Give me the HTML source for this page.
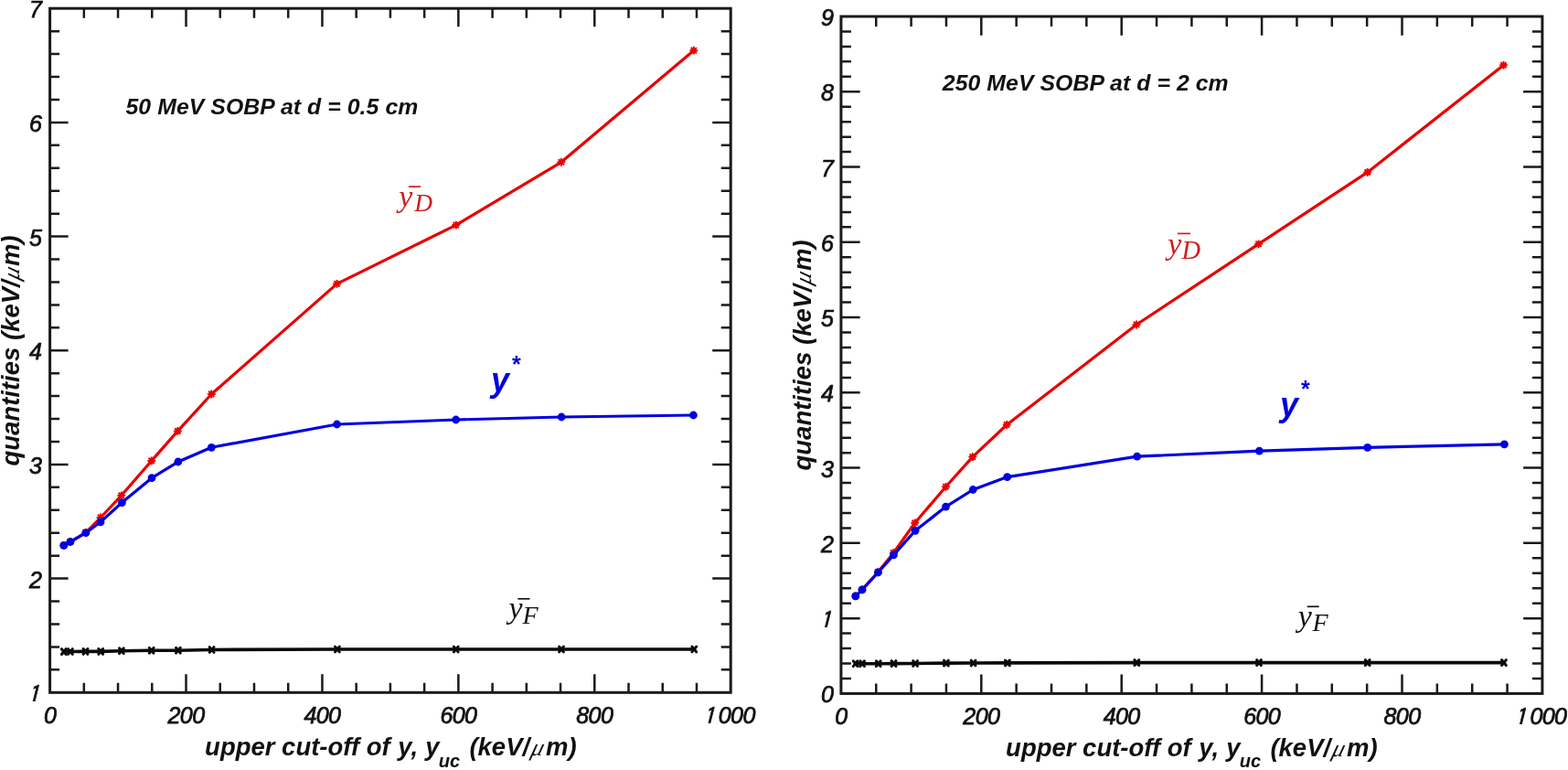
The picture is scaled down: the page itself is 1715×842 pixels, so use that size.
<!DOCTYPE html>
<html><head><meta charset="utf-8"><title>figure</title>
<style>html,body{margin:0;padding:0;background:#fff;}body{width:1715px;height:842px;overflow:hidden;}svg{display:block;}</style>
</head><body>
<svg width="1715" height="842" viewBox="0 0 1715 842"><rect x="0" y="0" width="1715" height="842" fill="#fff"/><path d="M91.83 757.30v-10.5M91.83 9.20v10.5M129.06 757.30v-10.5M129.06 9.20v10.5M166.29 757.30v-10.5M166.29 9.20v10.5M203.52 757.30v-20.0M203.52 9.20v20.0M240.75 757.30v-10.5M240.75 9.20v10.5M277.98 757.30v-10.5M277.98 9.20v10.5M315.21 757.30v-10.5M315.21 9.20v10.5M352.44 757.30v-20.0M352.44 9.20v20.0M389.67 757.30v-10.5M389.67 9.20v10.5M426.90 757.30v-10.5M426.90 9.20v10.5M464.13 757.30v-10.5M464.13 9.20v10.5M501.36 757.30v-20.0M501.36 9.20v20.0M538.59 757.30v-10.5M538.59 9.20v10.5M575.82 757.30v-10.5M575.82 9.20v10.5M613.05 757.30v-10.5M613.05 9.20v10.5M650.28 757.30v-20.0M650.28 9.20v20.0M687.51 757.30v-10.5M687.51 9.20v10.5M724.74 757.30v-10.5M724.74 9.20v10.5M761.97 757.30v-10.5M761.97 9.20v10.5M54.60 732.36h10.5M799.20 732.36h-10.5M54.60 707.43h10.5M799.20 707.43h-10.5M54.60 682.49h10.5M799.20 682.49h-10.5M54.60 657.55h10.5M799.20 657.55h-10.5M54.60 632.62h20.0M799.20 632.62h-20.0M54.60 607.68h10.5M799.20 607.68h-10.5M54.60 582.74h10.5M799.20 582.74h-10.5M54.60 557.81h10.5M799.20 557.81h-10.5M54.60 532.87h10.5M799.20 532.87h-10.5M54.60 507.93h20.0M799.20 507.93h-20.0M54.60 483.00h10.5M799.20 483.00h-10.5M54.60 458.06h10.5M799.20 458.06h-10.5M54.60 433.12h10.5M799.20 433.12h-10.5M54.60 408.19h10.5M799.20 408.19h-10.5M54.60 383.25h20.0M799.20 383.25h-20.0M54.60 358.31h10.5M799.20 358.31h-10.5M54.60 333.38h10.5M799.20 333.38h-10.5M54.60 308.44h10.5M799.20 308.44h-10.5M54.60 283.50h10.5M799.20 283.50h-10.5M54.60 258.57h20.0M799.20 258.57h-20.0M54.60 233.63h10.5M799.20 233.63h-10.5M54.60 208.69h10.5M799.20 208.69h-10.5M54.60 183.76h10.5M799.20 183.76h-10.5M54.60 158.82h10.5M799.20 158.82h-10.5M54.60 133.88h20.0M799.20 133.88h-20.0M54.60 108.95h10.5M799.20 108.95h-10.5M54.60 84.01h10.5M799.20 84.01h-10.5M54.60 59.07h10.5M799.20 59.07h-10.5M54.60 34.14h10.5M799.20 34.14h-10.5" stroke="#1a1a1a" stroke-width="2.5" fill="none"/><rect x="54.60" y="9.20" width="744.60" height="748.10" fill="none" stroke="#1a1a1a" stroke-width="3.0"/><text x="54.60" y="790.50" text-anchor="middle" style="font-family:'Liberation Sans',Arial,sans-serif;font-weight:normal;font-style:italic;stroke:#111;stroke-width:0.75px;letter-spacing:-0.6px;font-size:25px" fill="#111">0</text><text x="203.52" y="790.50" text-anchor="middle" style="font-family:'Liberation Sans',Arial,sans-serif;font-weight:normal;font-style:italic;stroke:#111;stroke-width:0.75px;letter-spacing:-0.6px;font-size:25px" fill="#111">200</text><text x="352.44" y="790.50" text-anchor="middle" style="font-family:'Liberation Sans',Arial,sans-serif;font-weight:normal;font-style:italic;stroke:#111;stroke-width:0.75px;letter-spacing:-0.6px;font-size:25px" fill="#111">400</text><text x="501.36" y="790.50" text-anchor="middle" style="font-family:'Liberation Sans',Arial,sans-serif;font-weight:normal;font-style:italic;stroke:#111;stroke-width:0.75px;letter-spacing:-0.6px;font-size:25px" fill="#111">600</text><text x="650.28" y="790.50" text-anchor="middle" style="font-family:'Liberation Sans',Arial,sans-serif;font-weight:normal;font-style:italic;stroke:#111;stroke-width:0.75px;letter-spacing:-0.6px;font-size:25px" fill="#111">800</text><text x="797.30" y="790.50" text-anchor="middle" style="font-family:'Liberation Sans',Arial,sans-serif;font-weight:normal;font-style:italic;stroke:#111;stroke-width:0.75px;letter-spacing:-0.6px;font-size:25px" fill="#111"><tspan dy="1" style="font-family:IPAGothic,'Liberation Sans',sans-serif;letter-spacing:4.4px">1</tspan><tspan dy="-1">000</tspan></text><text x="47.10" y="767.30" text-anchor="end" style="font-family:'Liberation Sans',Arial,sans-serif;font-weight:normal;font-style:italic;stroke:#111;stroke-width:0.75px;letter-spacing:-0.6px;font-size:25px" fill="#111"><tspan dy="1" style="font-family:IPAGothic,'Liberation Sans',sans-serif;letter-spacing:4.4px">1</tspan></text><text x="45.20" y="642.62" text-anchor="end" style="font-family:'Liberation Sans',Arial,sans-serif;font-weight:normal;font-style:italic;stroke:#111;stroke-width:0.75px;letter-spacing:-0.6px;font-size:25px" fill="#111">2</text><text x="45.20" y="517.93" text-anchor="end" style="font-family:'Liberation Sans',Arial,sans-serif;font-weight:normal;font-style:italic;stroke:#111;stroke-width:0.75px;letter-spacing:-0.6px;font-size:25px" fill="#111">3</text><text x="45.20" y="393.25" text-anchor="end" style="font-family:'Liberation Sans',Arial,sans-serif;font-weight:normal;font-style:italic;stroke:#111;stroke-width:0.75px;letter-spacing:-0.6px;font-size:25px" fill="#111">4</text><text x="45.20" y="268.57" text-anchor="end" style="font-family:'Liberation Sans',Arial,sans-serif;font-weight:normal;font-style:italic;stroke:#111;stroke-width:0.75px;letter-spacing:-0.6px;font-size:25px" fill="#111">5</text><text x="45.20" y="143.88" text-anchor="end" style="font-family:'Liberation Sans',Arial,sans-serif;font-weight:normal;font-style:italic;stroke:#111;stroke-width:0.75px;letter-spacing:-0.6px;font-size:25px" fill="#111">6</text><text x="45.20" y="19.20" text-anchor="end" style="font-family:'Liberation Sans',Arial,sans-serif;font-weight:normal;font-style:italic;stroke:#111;stroke-width:0.75px;letter-spacing:-0.6px;font-size:25px" fill="#111">7</text><path d="M958.25 758.40v-11.0M958.25 18.00v11.0M996.60 758.40v-11.0M996.60 18.00v11.0M1034.95 758.40v-11.0M1034.95 18.00v11.0M1073.30 758.40v-20.8M1073.30 18.00v20.8M1111.65 758.40v-11.0M1111.65 18.00v11.0M1150.00 758.40v-11.0M1150.00 18.00v11.0M1188.35 758.40v-11.0M1188.35 18.00v11.0M1226.70 758.40v-20.8M1226.70 18.00v20.8M1265.05 758.40v-11.0M1265.05 18.00v11.0M1303.40 758.40v-11.0M1303.40 18.00v11.0M1341.75 758.40v-11.0M1341.75 18.00v11.0M1380.10 758.40v-20.8M1380.10 18.00v20.8M1418.45 758.40v-11.0M1418.45 18.00v11.0M1456.80 758.40v-11.0M1456.80 18.00v11.0M1495.15 758.40v-11.0M1495.15 18.00v11.0M1533.50 758.40v-20.8M1533.50 18.00v20.8M1571.85 758.40v-11.0M1571.85 18.00v11.0M1610.20 758.40v-11.0M1610.20 18.00v11.0M1648.55 758.40v-11.0M1648.55 18.00v11.0M919.90 741.95h11.0M1686.90 741.95h-11.0M919.90 725.49h11.0M1686.90 725.49h-11.0M919.90 709.04h11.0M1686.90 709.04h-11.0M919.90 692.59h11.0M1686.90 692.59h-11.0M919.90 676.13h20.8M1686.90 676.13h-20.8M919.90 659.68h11.0M1686.90 659.68h-11.0M919.90 643.23h11.0M1686.90 643.23h-11.0M919.90 626.77h11.0M1686.90 626.77h-11.0M919.90 610.32h11.0M1686.90 610.32h-11.0M919.90 593.87h20.8M1686.90 593.87h-20.8M919.90 577.41h11.0M1686.90 577.41h-11.0M919.90 560.96h11.0M1686.90 560.96h-11.0M919.90 544.51h11.0M1686.90 544.51h-11.0M919.90 528.05h11.0M1686.90 528.05h-11.0M919.90 511.60h20.8M1686.90 511.60h-20.8M919.90 495.15h11.0M1686.90 495.15h-11.0M919.90 478.69h11.0M1686.90 478.69h-11.0M919.90 462.24h11.0M1686.90 462.24h-11.0M919.90 445.79h11.0M1686.90 445.79h-11.0M919.90 429.33h20.8M1686.90 429.33h-20.8M919.90 412.88h11.0M1686.90 412.88h-11.0M919.90 396.43h11.0M1686.90 396.43h-11.0M919.90 379.97h11.0M1686.90 379.97h-11.0M919.90 363.52h11.0M1686.90 363.52h-11.0M919.90 347.07h20.8M1686.90 347.07h-20.8M919.90 330.61h11.0M1686.90 330.61h-11.0M919.90 314.16h11.0M1686.90 314.16h-11.0M919.90 297.71h11.0M1686.90 297.71h-11.0M919.90 281.25h11.0M1686.90 281.25h-11.0M919.90 264.80h20.8M1686.90 264.80h-20.8M919.90 248.35h11.0M1686.90 248.35h-11.0M919.90 231.89h11.0M1686.90 231.89h-11.0M919.90 215.44h11.0M1686.90 215.44h-11.0M919.90 198.99h11.0M1686.90 198.99h-11.0M919.90 182.53h20.8M1686.90 182.53h-20.8M919.90 166.08h11.0M1686.90 166.08h-11.0M919.90 149.63h11.0M1686.90 149.63h-11.0M919.90 133.17h11.0M1686.90 133.17h-11.0M919.90 116.72h11.0M1686.90 116.72h-11.0M919.90 100.27h20.8M1686.90 100.27h-20.8M919.90 83.81h11.0M1686.90 83.81h-11.0M919.90 67.36h11.0M1686.90 67.36h-11.0M919.90 50.91h11.0M1686.90 50.91h-11.0M919.90 34.45h11.0M1686.90 34.45h-11.0" stroke="#1a1a1a" stroke-width="2.5" fill="none"/><rect x="919.90" y="18.00" width="767.00" height="740.40" fill="none" stroke="#1a1a1a" stroke-width="3.0"/><text x="919.90" y="791.60" text-anchor="middle" style="font-family:'Liberation Sans',Arial,sans-serif;font-weight:normal;font-style:italic;stroke:#111;stroke-width:0.75px;letter-spacing:-0.6px;font-size:25px" fill="#111">0</text><text x="1073.30" y="791.60" text-anchor="middle" style="font-family:'Liberation Sans',Arial,sans-serif;font-weight:normal;font-style:italic;stroke:#111;stroke-width:0.75px;letter-spacing:-0.6px;font-size:25px" fill="#111">200</text><text x="1226.70" y="791.60" text-anchor="middle" style="font-family:'Liberation Sans',Arial,sans-serif;font-weight:normal;font-style:italic;stroke:#111;stroke-width:0.75px;letter-spacing:-0.6px;font-size:25px" fill="#111">400</text><text x="1380.10" y="791.60" text-anchor="middle" style="font-family:'Liberation Sans',Arial,sans-serif;font-weight:normal;font-style:italic;stroke:#111;stroke-width:0.75px;letter-spacing:-0.6px;font-size:25px" fill="#111">600</text><text x="1533.50" y="791.60" text-anchor="middle" style="font-family:'Liberation Sans',Arial,sans-serif;font-weight:normal;font-style:italic;stroke:#111;stroke-width:0.75px;letter-spacing:-0.6px;font-size:25px" fill="#111">800</text><text x="1685.00" y="791.60" text-anchor="middle" style="font-family:'Liberation Sans',Arial,sans-serif;font-weight:normal;font-style:italic;stroke:#111;stroke-width:0.75px;letter-spacing:-0.6px;font-size:25px" fill="#111"><tspan dy="1" style="font-family:IPAGothic,'Liberation Sans',sans-serif;letter-spacing:4.4px">1</tspan><tspan dy="-1">000</tspan></text><text x="911.40" y="768.40" text-anchor="end" style="font-family:'Liberation Sans',Arial,sans-serif;font-weight:normal;font-style:italic;stroke:#111;stroke-width:0.75px;letter-spacing:-0.6px;font-size:25px" fill="#111">0</text><text x="913.30" y="686.13" text-anchor="end" style="font-family:'Liberation Sans',Arial,sans-serif;font-weight:normal;font-style:italic;stroke:#111;stroke-width:0.75px;letter-spacing:-0.6px;font-size:25px" fill="#111"><tspan dy="1" style="font-family:IPAGothic,'Liberation Sans',sans-serif;letter-spacing:4.4px">1</tspan></text><text x="911.40" y="603.87" text-anchor="end" style="font-family:'Liberation Sans',Arial,sans-serif;font-weight:normal;font-style:italic;stroke:#111;stroke-width:0.75px;letter-spacing:-0.6px;font-size:25px" fill="#111">2</text><text x="911.40" y="521.60" text-anchor="end" style="font-family:'Liberation Sans',Arial,sans-serif;font-weight:normal;font-style:italic;stroke:#111;stroke-width:0.75px;letter-spacing:-0.6px;font-size:25px" fill="#111">3</text><text x="911.40" y="439.33" text-anchor="end" style="font-family:'Liberation Sans',Arial,sans-serif;font-weight:normal;font-style:italic;stroke:#111;stroke-width:0.75px;letter-spacing:-0.6px;font-size:25px" fill="#111">4</text><text x="911.40" y="357.07" text-anchor="end" style="font-family:'Liberation Sans',Arial,sans-serif;font-weight:normal;font-style:italic;stroke:#111;stroke-width:0.75px;letter-spacing:-0.6px;font-size:25px" fill="#111">5</text><text x="911.40" y="274.80" text-anchor="end" style="font-family:'Liberation Sans',Arial,sans-serif;font-weight:normal;font-style:italic;stroke:#111;stroke-width:0.75px;letter-spacing:-0.6px;font-size:25px" fill="#111">6</text><text x="911.40" y="192.53" text-anchor="end" style="font-family:'Liberation Sans',Arial,sans-serif;font-weight:normal;font-style:italic;stroke:#111;stroke-width:0.75px;letter-spacing:-0.6px;font-size:25px" fill="#111">7</text><text x="911.40" y="110.27" text-anchor="end" style="font-family:'Liberation Sans',Arial,sans-serif;font-weight:normal;font-style:italic;stroke:#111;stroke-width:0.75px;letter-spacing:-0.6px;font-size:25px" fill="#111">8</text><text x="911.40" y="28.00" text-anchor="end" style="font-family:'Liberation Sans',Arial,sans-serif;font-weight:normal;font-style:italic;stroke:#111;stroke-width:0.75px;letter-spacing:-0.6px;font-size:25px" fill="#111">9</text><polyline points="69.8,712.6 76.9,712.5 93.5,712.4 110.2,712.4 132.9,711.7 165.7,711.3 194.9,711.2 231.6,710.5 368.9,710.0 498.7,710.0 614.0,710.0 759.3,710.0" fill="none" stroke="#0a0a0a" stroke-width="3.6" stroke-linejoin="round" stroke-linecap="round"/><path d="M67.4 709.7L72.2 715.5M67.4 715.5L72.2 709.7" stroke="#0a0a0a" stroke-width="3.0" stroke-linecap="round"/><path d="M74.5 709.6L79.3 715.4M74.5 715.4L79.3 709.6" stroke="#0a0a0a" stroke-width="3.0" stroke-linecap="round"/><path d="M91.1 709.5L95.9 715.3M91.1 715.3L95.9 709.5" stroke="#0a0a0a" stroke-width="3.0" stroke-linecap="round"/><path d="M107.8 709.5L112.6 715.3M107.8 715.3L112.6 709.5" stroke="#0a0a0a" stroke-width="3.0" stroke-linecap="round"/><path d="M130.5 708.8L135.3 714.6M130.5 714.6L135.3 708.8" stroke="#0a0a0a" stroke-width="3.0" stroke-linecap="round"/><path d="M163.3 708.4L168.1 714.2M163.3 714.2L168.1 708.4" stroke="#0a0a0a" stroke-width="3.0" stroke-linecap="round"/><path d="M192.5 708.3L197.3 714.1M192.5 714.1L197.3 708.3" stroke="#0a0a0a" stroke-width="3.0" stroke-linecap="round"/><path d="M229.2 707.6L234.0 713.4M229.2 713.4L234.0 707.6" stroke="#0a0a0a" stroke-width="3.0" stroke-linecap="round"/><path d="M366.5 707.1L371.3 712.9M366.5 712.9L371.3 707.1" stroke="#0a0a0a" stroke-width="3.0" stroke-linecap="round"/><path d="M496.3 707.1L501.1 712.9M496.3 712.9L501.1 707.1" stroke="#0a0a0a" stroke-width="3.0" stroke-linecap="round"/><path d="M611.6 707.1L616.4 712.9M611.6 712.9L616.4 707.1" stroke="#0a0a0a" stroke-width="3.0" stroke-linecap="round"/><path d="M756.9 707.1L761.7 712.9M756.9 712.9L761.7 707.1" stroke="#0a0a0a" stroke-width="3.0" stroke-linecap="round"/><polyline points="69.8,596.4 76.9,592.5 93.9,582.3 110.0,566.0 132.8,541.8 165.8,503.9 194.4,471.4 231.3,431.0 368.5,310.4 498.8,246.1 613.9,177.3 758.8,55.2" fill="none" stroke="#e80000" stroke-width="3.2" stroke-linejoin="round" stroke-linecap="round"/><path d="M65.4 596.4h8.8M69.8 592.0v8.8M66.6 593.2l6.3 6.3M66.6 599.6l6.3 -6.3" stroke="#e80000" stroke-width="2.0"/><path d="M72.5 592.5h8.8M76.9 588.1v8.8M73.7 589.3l6.3 6.3M73.7 595.7l6.3 -6.3" stroke="#e80000" stroke-width="2.0"/><path d="M89.5 582.3h8.8M93.9 577.9v8.8M90.7 579.1l6.3 6.3M90.7 585.5l6.3 -6.3" stroke="#e80000" stroke-width="2.0"/><path d="M105.6 566.0h8.8M110.0 561.6v8.8M106.8 562.8l6.3 6.3M106.8 569.2l6.3 -6.3" stroke="#e80000" stroke-width="2.0"/><path d="M128.4 541.8h8.8M132.8 537.4v8.8M129.6 538.6l6.3 6.3M129.6 545.0l6.3 -6.3" stroke="#e80000" stroke-width="2.0"/><path d="M161.4 503.9h8.8M165.8 499.5v8.8M162.6 500.7l6.3 6.3M162.6 507.1l6.3 -6.3" stroke="#e80000" stroke-width="2.0"/><path d="M190.0 471.4h8.8M194.4 467.0v8.8M191.2 468.2l6.3 6.3M191.2 474.6l6.3 -6.3" stroke="#e80000" stroke-width="2.0"/><path d="M226.9 431.0h8.8M231.3 426.6v8.8M228.1 427.8l6.3 6.3M228.1 434.2l6.3 -6.3" stroke="#e80000" stroke-width="2.0"/><path d="M364.1 310.4h8.8M368.5 306.0v8.8M365.3 307.2l6.3 6.3M365.3 313.6l6.3 -6.3" stroke="#e80000" stroke-width="2.0"/><path d="M494.4 246.1h8.8M498.8 241.7v8.8M495.6 242.9l6.3 6.3M495.6 249.3l6.3 -6.3" stroke="#e80000" stroke-width="2.0"/><path d="M609.5 177.3h8.8M613.9 172.9v8.8M610.7 174.1l6.3 6.3M610.7 180.5l6.3 -6.3" stroke="#e80000" stroke-width="2.0"/><path d="M754.4 55.2h8.8M758.8 50.8v8.8M755.6 52.0l6.3 6.3M755.6 58.4l6.3 -6.3" stroke="#e80000" stroke-width="2.0"/><polyline points="69.8,596.4 76.9,592.5 93.9,582.7 110.0,570.8 133.4,549.6 166.0,522.7 194.8,505.0 231.3,489.3 368.5,464.0 498.7,459.0 614.1,456.0 758.4,454.0" fill="none" stroke="#0000e0" stroke-width="3.2" stroke-linejoin="round" stroke-linecap="round"/><circle cx="69.8" cy="596.4" r="4.4" fill="#0000e0"/><circle cx="76.9" cy="592.5" r="4.4" fill="#0000e0"/><circle cx="93.9" cy="582.7" r="4.4" fill="#0000e0"/><circle cx="110.0" cy="570.8" r="4.4" fill="#0000e0"/><circle cx="133.4" cy="549.6" r="4.4" fill="#0000e0"/><circle cx="166.0" cy="522.7" r="4.4" fill="#0000e0"/><circle cx="194.8" cy="505.0" r="4.4" fill="#0000e0"/><circle cx="231.3" cy="489.3" r="4.4" fill="#0000e0"/><circle cx="368.5" cy="464.0" r="4.4" fill="#0000e0"/><circle cx="498.7" cy="459.0" r="4.4" fill="#0000e0"/><circle cx="614.1" cy="456.0" r="4.4" fill="#0000e0"/><circle cx="758.4" cy="454.0" r="4.4" fill="#0000e0"/><polyline points="935.6,725.7 943.1,725.7 960.7,725.7 977.5,725.6 1001.1,725.5 1034.9,725.1 1064.6,725.0 1101.9,724.9 1243.3,724.6 1377.0,724.6 1495.7,724.6 1644.9,724.6" fill="none" stroke="#0a0a0a" stroke-width="3.6" stroke-linejoin="round" stroke-linecap="round"/><path d="M933.2 722.8L938.0 728.6M933.2 728.6L938.0 722.8" stroke="#0a0a0a" stroke-width="3.0" stroke-linecap="round"/><path d="M940.7 722.8L945.5 728.6M940.7 728.6L945.5 722.8" stroke="#0a0a0a" stroke-width="3.0" stroke-linecap="round"/><path d="M958.3 722.8L963.1 728.6M958.3 728.6L963.1 722.8" stroke="#0a0a0a" stroke-width="3.0" stroke-linecap="round"/><path d="M975.1 722.7L979.9 728.5M975.1 728.5L979.9 722.7" stroke="#0a0a0a" stroke-width="3.0" stroke-linecap="round"/><path d="M998.7 722.6L1003.5 728.4M998.7 728.4L1003.5 722.6" stroke="#0a0a0a" stroke-width="3.0" stroke-linecap="round"/><path d="M1032.5 722.2L1037.3 728.0M1032.5 728.0L1037.3 722.2" stroke="#0a0a0a" stroke-width="3.0" stroke-linecap="round"/><path d="M1062.2 722.1L1067.0 727.9M1062.2 727.9L1067.0 722.1" stroke="#0a0a0a" stroke-width="3.0" stroke-linecap="round"/><path d="M1099.5 722.0L1104.3 727.8M1099.5 727.8L1104.3 722.0" stroke="#0a0a0a" stroke-width="3.0" stroke-linecap="round"/><path d="M1240.9 721.7L1245.7 727.5M1240.9 727.5L1245.7 721.7" stroke="#0a0a0a" stroke-width="3.0" stroke-linecap="round"/><path d="M1374.6 721.7L1379.4 727.5M1374.6 727.5L1379.4 721.7" stroke="#0a0a0a" stroke-width="3.0" stroke-linecap="round"/><path d="M1493.3 721.7L1498.1 727.5M1493.3 727.5L1498.1 721.7" stroke="#0a0a0a" stroke-width="3.0" stroke-linecap="round"/><path d="M1642.5 721.7L1647.3 727.5M1642.5 727.5L1647.3 721.7" stroke="#0a0a0a" stroke-width="3.0" stroke-linecap="round"/><polyline points="935.8,651.8 943.0,644.8 960.4,625.6 977.4,604.5 1000.7,571.8 1034.5,532.3 1063.8,499.6 1101.2,464.5 1243.0,355.0 1376.6,266.8 1495.7,188.4 1644.5,71.3" fill="none" stroke="#e80000" stroke-width="3.2" stroke-linejoin="round" stroke-linecap="round"/><path d="M931.4 651.8h8.8M935.8 647.4v8.8M932.6 648.6l6.3 6.3M932.6 655.0l6.3 -6.3" stroke="#e80000" stroke-width="2.0"/><path d="M938.6 644.8h8.8M943.0 640.4v8.8M939.8 641.6l6.3 6.3M939.8 648.0l6.3 -6.3" stroke="#e80000" stroke-width="2.0"/><path d="M956.0 625.6h8.8M960.4 621.2v8.8M957.2 622.4l6.3 6.3M957.2 628.8l6.3 -6.3" stroke="#e80000" stroke-width="2.0"/><path d="M973.0 604.5h8.8M977.4 600.1v8.8M974.2 601.3l6.3 6.3M974.2 607.7l6.3 -6.3" stroke="#e80000" stroke-width="2.0"/><path d="M996.3 571.8h8.8M1000.7 567.4v8.8M997.5 568.6l6.3 6.3M997.5 575.0l6.3 -6.3" stroke="#e80000" stroke-width="2.0"/><path d="M1030.1 532.3h8.8M1034.5 527.9v8.8M1031.3 529.1l6.3 6.3M1031.3 535.5l6.3 -6.3" stroke="#e80000" stroke-width="2.0"/><path d="M1059.4 499.6h8.8M1063.8 495.2v8.8M1060.6 496.4l6.3 6.3M1060.6 502.8l6.3 -6.3" stroke="#e80000" stroke-width="2.0"/><path d="M1096.8 464.5h8.8M1101.2 460.1v8.8M1098.0 461.3l6.3 6.3M1098.0 467.7l6.3 -6.3" stroke="#e80000" stroke-width="2.0"/><path d="M1238.6 355.0h8.8M1243.0 350.6v8.8M1239.8 351.8l6.3 6.3M1239.8 358.2l6.3 -6.3" stroke="#e80000" stroke-width="2.0"/><path d="M1372.2 266.8h8.8M1376.6 262.4v8.8M1373.4 263.6l6.3 6.3M1373.4 270.0l6.3 -6.3" stroke="#e80000" stroke-width="2.0"/><path d="M1491.3 188.4h8.8M1495.7 184.0v8.8M1492.5 185.2l6.3 6.3M1492.5 191.6l6.3 -6.3" stroke="#e80000" stroke-width="2.0"/><path d="M1640.1 71.3h8.8M1644.5 66.9v8.8M1641.3 68.1l6.3 6.3M1641.3 74.5l6.3 -6.3" stroke="#e80000" stroke-width="2.0"/><polyline points="935.8,651.8 943.0,644.8 960.4,626.0 977.4,606.9 1001.1,580.3 1034.5,554.1 1064.2,535.5 1101.7,521.6 1243.7,499.2 1377.4,493.1 1495.7,489.3 1645.4,485.8" fill="none" stroke="#0000e0" stroke-width="3.2" stroke-linejoin="round" stroke-linecap="round"/><circle cx="935.8" cy="651.8" r="4.4" fill="#0000e0"/><circle cx="943.0" cy="644.8" r="4.4" fill="#0000e0"/><circle cx="960.4" cy="626.0" r="4.4" fill="#0000e0"/><circle cx="977.4" cy="606.9" r="4.4" fill="#0000e0"/><circle cx="1001.1" cy="580.3" r="4.4" fill="#0000e0"/><circle cx="1034.5" cy="554.1" r="4.4" fill="#0000e0"/><circle cx="1064.2" cy="535.5" r="4.4" fill="#0000e0"/><circle cx="1101.7" cy="521.6" r="4.4" fill="#0000e0"/><circle cx="1243.7" cy="499.2" r="4.4" fill="#0000e0"/><circle cx="1377.4" cy="493.1" r="4.4" fill="#0000e0"/><circle cx="1495.7" cy="489.3" r="4.4" fill="#0000e0"/><circle cx="1645.4" cy="485.8" r="4.4" fill="#0000e0"/><text x="137.5" y="124.5" style="font-family:'Liberation Sans',Arial,sans-serif;font-weight:bold;font-style:italic;font-size:24.8px;letter-spacing:0.07px" fill="#111">50 MeV SOBP at d = 0.5 cm</text><text x="1030.8" y="98.7" style="font-family:'Liberation Sans',Arial,sans-serif;font-weight:bold;font-style:italic;font-size:24.8px;letter-spacing:0.07px" fill="#111">250 MeV SOBP at d = 2 cm</text><text x="224.1" y="826.3" style="font-family:'Liberation Sans',Arial,sans-serif;font-weight:bold;font-style:italic;font-size:27.5px" fill="#111">upper cut-off of</text><text x="435.2" y="826.3" style="font-family:'Liberation Sans',Arial,sans-serif;font-weight:bold;font-style:italic;font-size:27.5px" fill="#111">y,</text><text x="465.2" y="826.3" style="font-family:'Liberation Sans',Arial,sans-serif;font-weight:bold;font-style:italic;font-size:27.5px" fill="#111">y</text><text x="479.7" y="838.9" style="font-family:'Liberation Sans',Arial,sans-serif;font-weight:bold;font-style:italic;font-size:20px" fill="#111">uc</text><text x="513.4" y="826.3" style="font-family:'Liberation Sans',Arial,sans-serif;font-weight:bold;font-style:italic;font-size:27.5px" fill="#111">(keV/</text><text transform="translate(579.8,826.3) skewX(-16)" style="font-family:'Liberation Serif',serif;font-weight:normal;font-style:italic;font-size:26px" fill="#111">μ</text><text x="597.0" y="826.3" style="font-family:'Liberation Sans',Arial,sans-serif;font-weight:bold;font-style:italic;font-size:27.5px" fill="#111">m)</text><text x="1100.1" y="826.7" style="font-family:'Liberation Sans',Arial,sans-serif;font-weight:bold;font-style:italic;font-size:27.5px" fill="#111">upper cut-off of</text><text x="1311.2" y="826.7" style="font-family:'Liberation Sans',Arial,sans-serif;font-weight:bold;font-style:italic;font-size:27.5px" fill="#111">y,</text><text x="1341.2" y="826.7" style="font-family:'Liberation Sans',Arial,sans-serif;font-weight:bold;font-style:italic;font-size:27.5px" fill="#111">y</text><text x="1355.7" y="839.3" style="font-family:'Liberation Sans',Arial,sans-serif;font-weight:bold;font-style:italic;font-size:20px" fill="#111">uc</text><text x="1389.4" y="826.7" style="font-family:'Liberation Sans',Arial,sans-serif;font-weight:bold;font-style:italic;font-size:27.5px" fill="#111">(keV/</text><text transform="translate(1455.8,826.7) skewX(-16)" style="font-family:'Liberation Serif',serif;font-weight:normal;font-style:italic;font-size:26px" fill="#111">μ</text><text x="1473.0" y="826.7" style="font-family:'Liberation Sans',Arial,sans-serif;font-weight:bold;font-style:italic;font-size:27.5px" fill="#111">m)</text><g transform="translate(21.0,383.25) rotate(-90)"><text x="-126.3" y="0.0" style="font-family:'Liberation Sans',Arial,sans-serif;font-weight:bold;font-style:italic;font-size:27.5px" fill="#111">quantities (keV/</text><text x="92.2" y="0.0" style="font-family:'Liberation Sans',Arial,sans-serif;font-weight:bold;font-style:italic;font-size:27.5px" fill="#111">m)</text></g><text transform="translate(21.0,307.0) rotate(-90) skewX(-16)" style="font-family:'Liberation Serif',serif;font-weight:normal;font-style:italic;font-size:26px" fill="#111">μ</text><g transform="translate(886.6,388.20) rotate(-90)"><text x="-126.3" y="0.0" style="font-family:'Liberation Sans',Arial,sans-serif;font-weight:bold;font-style:italic;font-size:27.5px" fill="#111">quantities (keV/</text><text x="92.2" y="0.0" style="font-family:'Liberation Sans',Arial,sans-serif;font-weight:bold;font-style:italic;font-size:27.5px" fill="#111">m)</text></g><text transform="translate(886.6,311.9) rotate(-90) skewX(-16)" style="font-family:'Liberation Serif',serif;font-weight:normal;font-style:italic;font-size:26px" fill="#111">μ</text><text x="436.2" y="225.6" style="font-family:'Liberation Serif',serif;font-style:italic;font-weight:normal;font-size:34px" fill="#d01c1c">y</text><text x="453.3" y="231" style="font-family:'Liberation Serif',serif;font-style:italic;font-weight:normal;font-size:27.5px" fill="#d01c1c">D</text><line x1="447.00" y1="204.10" x2="460.00" y2="204.10" stroke="#d01c1c" stroke-width="1.7"/><text x="1277.2" y="277.6" style="font-family:'Liberation Serif',serif;font-style:italic;font-weight:normal;font-size:34px" fill="#d01c1c">y</text><text x="1292.4" y="282.7" style="font-family:'Liberation Serif',serif;font-style:italic;font-weight:normal;font-size:28.5px" fill="#d01c1c">D</text><line x1="1288.00" y1="255.40" x2="1302.00" y2="255.40" stroke="#d01c1c" stroke-width="1.7"/><text x="556.4" y="676.4" style="font-family:'Liberation Serif',serif;font-style:italic;font-weight:normal;font-size:34px" fill="#111">y</text><text x="571.6" y="681.5" style="font-family:'Liberation Serif',serif;font-style:italic;font-weight:normal;font-size:28px" fill="#111">F</text><line x1="566.40" y1="654.80" x2="579.50" y2="654.80" stroke="#111" stroke-width="1.7"/><text x="1419.7" y="685.4" style="font-family:'Liberation Serif',serif;font-style:italic;font-weight:normal;font-size:34px" fill="#111">y</text><text x="1435.5" y="689.8" style="font-family:'Liberation Serif',serif;font-style:italic;font-weight:normal;font-size:28px" fill="#111">F</text><line x1="1429.70" y1="663.30" x2="1442.70" y2="663.30" stroke="#111" stroke-width="1.7"/><text x="537" y="428" style="font-family:'Liberation Sans',Arial,sans-serif;font-weight:bold;font-style:italic;font-size:36px" fill="#0000e0">y</text><text x="559" y="407" style="font-family:'Liberation Sans',Arial,sans-serif;font-weight:bold;font-style:italic;font-size:25px" fill="#0000c8">*</text><text x="1400" y="455" style="font-family:'Liberation Sans',Arial,sans-serif;font-weight:bold;font-style:italic;font-size:36px" fill="#0000e0">y</text><text x="1422" y="434" style="font-family:'Liberation Sans',Arial,sans-serif;font-weight:bold;font-style:italic;font-size:25px" fill="#0000c8">*</text></svg>
</body></html>
